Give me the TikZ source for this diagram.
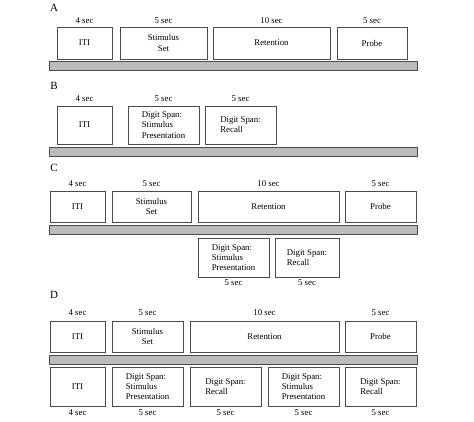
\documentclass[tikz,border=0pt]{standalone}
\usepackage{fontspec}
\setmainfont{Liberation Serif}
\definecolor{edge}{RGB}{75,75,75}
\definecolor{barfill}{RGB}{188,188,188}
\tikzset{
  x=1pt, y=-1pt,
  box/.style={draw=edge, line width=0.8pt, fill=white, inner sep=0pt, align=center,
    font=\fontsize{8.8}{10.2}\selectfont},
  lbox/.style={box, align=left},
  bar/.style={draw=edge, line width=0.7pt, fill=barfill, inner sep=0pt, minimum width=368pt, minimum height=9pt},
  lab/.style={inner sep=0pt, font=\fontsize{8.8}{10}\selectfont},
  letter/.style={inner sep=0pt, font=\fontsize{11}{13}\selectfont}
}
\begin{document}
\begin{tikzpicture}
\useasboundingbox (0,0) rectangle (474,421);
% ---------- A ----------
\node[letter] (LA) at (54,8) {A};
\node[box, minimum width=55pt, minimum height=32pt] (a1) at (84.5,43) {ITI};
\node[box, minimum width=87pt, minimum height=32pt] (a2) at (163.5,43) {Stimulus\\Set};
\node[box, minimum width=117pt, minimum height=32pt] (a3) at (271.5,43) {Retention};
\node[box, minimum width=70pt, minimum height=32pt] (a4) at (372,43) {Probe};
\node[bar] (abar) at (233,65.5) {};
\node[lab] (ta1) at (84.5,21) {4 sec};
\node[lab] (ta2) at (163.5,21) {5 sec};
\node[lab] (ta3) at (271.5,21) {10 sec};
\node[lab] (ta4) at (372,21) {5 sec};
% ---------- B ----------
\node[letter] (LB) at (54,86) {B};
\node[box, minimum width=55pt, minimum height=38pt] (b1) at (84.5,125) {ITI};
\node[lbox, minimum width=71pt, minimum height=38pt] (b2) at (163.5,125) {Digit Span:\\Stimulus\\Presentation};
\node[lbox, minimum width=71pt, minimum height=38pt] (b3) at (240.5,125) {Digit Span:\\Recall};
\node[bar] (bbar) at (233,152) {};
\node[lab] (tb1) at (84.5,99) {4 sec};
\node[lab] (tb2) at (163.5,99) {5 sec};
\node[lab] (tb3) at (240.5,99) {5 sec};
% ---------- C ----------
\node[letter] (LC) at (54,168) {C};
\node[box, minimum width=55pt, minimum height=31pt] (c1) at (77.5,206.5) {ITI};
\node[box, minimum width=79pt, minimum height=31pt] (c2) at (151.5,206.5) {Stimulus\\Set};
\node[box, minimum width=141pt, minimum height=31pt] (c3) at (268.5,206.5) {Retention};
\node[box, minimum width=71pt, minimum height=31pt] (c4) at (380.5,206.5) {Probe};
\node[bar] (cbar) at (233,229.5) {};
\node[lbox, minimum width=71pt, minimum height=39pt] (c5) at (233.5,257.5) {Digit Span:\\Stimulus\\Presentation};
\node[lbox, minimum width=64pt, minimum height=39pt] (c6) at (307,257.5) {Digit Span:\\Recall};
\node[lab] (tc1) at (77.5,184) {4 sec};
\node[lab] (tc2) at (151.5,184) {5 sec};
\node[lab] (tc3) at (268.5,184) {10 sec};
\node[lab] (tc4) at (380.5,184) {5 sec};
\node[lab] (tc5) at (233.5,283) {5 sec};
\node[lab] (tc6) at (307,283) {5 sec};
% ---------- D ----------
\node[letter] (LD) at (54,295) {D};
\node[box, minimum width=55pt, minimum height=31pt] (d1) at (77.5,336.5) {ITI};
\node[box, minimum width=71pt, minimum height=31pt] (d2) at (147.5,336.5) {Stimulus\\Set};
\node[box, minimum width=149pt, minimum height=31pt] (d3) at (264.5,336.5) {Retention};
\node[box, minimum width=71pt, minimum height=31pt] (d4) at (380.5,336.5) {Probe};
\node[bar] (dbar) at (233,359.5) {};
\node[box, minimum width=55pt, minimum height=39pt] (d5) at (77.5,386.5) {ITI};
\node[lbox, minimum width=71pt, minimum height=39pt] (d6) at (147.5,386.5) {Digit Span:\\Stimulus\\Presentation};
\node[lbox, minimum width=71pt, minimum height=39pt] (d7) at (225.5,386.5) {Digit Span:\\Recall};
\node[lbox, minimum width=71pt, minimum height=39pt] (d8) at (303.5,386.5) {Digit Span:\\Stimulus\\Presentation};
\node[lbox, minimum width=71pt, minimum height=39pt] (d9) at (380.5,386.5) {Digit Span:\\Recall};
\node[lab] (td1) at (77.5,313) {4 sec};
\node[lab] (td2) at (147.5,313) {5 sec};
\node[lab] (td3) at (264.5,313) {10 sec};
\node[lab] (td4) at (380.5,313) {5 sec};
\node[lab] (td5) at (77.5,413) {4 sec};
\node[lab] (td6) at (147.5,413) {5 sec};
\node[lab] (td7) at (225.5,413) {5 sec};
\node[lab] (td8) at (303.5,413) {5 sec};
\node[lab] (td9) at (380.5,413) {5 sec};
\end{tikzpicture}
\end{document}
